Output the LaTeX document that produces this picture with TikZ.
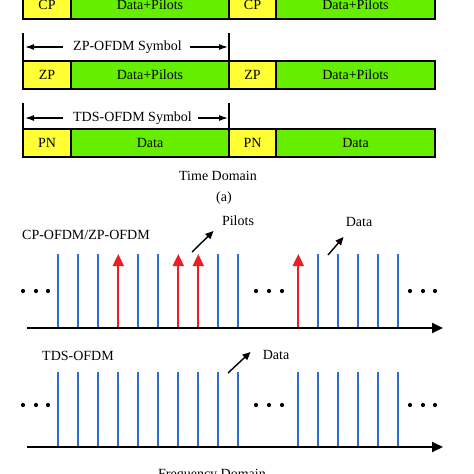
\documentclass[tikz,border=0pt]{standalone}
\usepackage{fontspec}
\setmainfont{Liberation Serif}
\usetikzlibrary{arrows.meta}
\definecolor{boxyellow}{RGB}{255,255,51}
\definecolor{boxgreen}{RGB}{102,238,0}
\definecolor{lineblue}{RGB}{45,110,210}
\definecolor{pilotred}{RGB}{235,30,40}
\begin{document}
\begin{tikzpicture}[x=1pt,y=-1pt,font=\fontsize{14}{16}\selectfont,
  seg/.style={draw=black,line width=1.3pt,minimum height=28pt,inner sep=0pt,anchor=north west,outer sep=0pt},
  ybox/.style={seg,fill=boxyellow},
  gbox/.style={seg,fill=boxgreen},
  bracket/.style={line width=1.2pt},
  symarrow/.style={line width=1.2pt,-{Latex[length=9pt,width=6pt]}},
  sub/.style={line width=1.8pt,draw=lineblue},
  pilot/.style={line width=1.8pt,draw=pilotred,-{Triangle[length=12pt,width=11pt]}},
  axis/.style={line width=1.8pt,-{Triangle[length=11pt,width=10pt]}},
  pointer/.style={line width=1.4pt,-{Triangle[length=8pt,width=7pt]}},
  dot/.style={circle,fill=black,inner sep=0pt,minimum size=4.2pt}]
\useasboundingbox (0,0) rectangle (474,474);
\clip (0,0) rectangle (474,474);

% ---- Time domain ----
% CP-OFDM row
\node[ybox,minimum width=48pt] (cp1) at (23,-9) {CP};
\node[gbox,minimum width=158pt] (cpd1) at (71,-9) {Data+Pilots};
\node[ybox,minimum width=47pt] (cp2) at (229,-9) {CP};
\node[gbox,minimum width=159pt] (cpd2) at (276,-9) {Data+Pilots};
% ZP-OFDM row
\node[ybox,minimum width=48pt] (zp1) at (23,61) {ZP};
\node[gbox,minimum width=158pt] (zpd1) at (71,61) {Data+Pilots};
\node[ybox,minimum width=47pt] (zp2) at (229,61) {ZP};
\node[gbox,minimum width=159pt] (zpd2) at (276,61) {Data+Pilots};
% TDS-OFDM row
\node[ybox,minimum width=48pt] (pn1) at (23,129) {PN};
\node[gbox,minimum width=158pt] (pnd1) at (71,129) {Data};
\node[ybox,minimum width=47pt] (pn2) at (229,129) {PN};
\node[gbox,minimum width=159pt] (pnd2) at (276,129) {Data};

% ZP-OFDM symbol bracket
\coordinate (zpL) at (23,33);
\coordinate (zpR) at (229,33);
\draw[bracket] (zp1.north west) -- (zpL);
\draw[bracket] (zp2.north west) -- (zpR);
\node[inner sep=0pt] (zpsym) at (127.5,47) {ZP-OFDM Symbol};
\coordinate (zpLa) at (25,47);
\coordinate (zpRa) at (228,47);
\draw[symarrow] ([xshift=-10pt]zpsym.west) -- (zpLa);
\draw[symarrow] ([xshift=8pt]zpsym.east) -- (zpRa);

% TDS-OFDM symbol bracket
\coordinate (tdL) at (23,103);
\coordinate (tdR) at (229,103);
\draw[bracket] (pn1.north west) -- (tdL);
\draw[bracket] (pn2.north west) -- (tdR);
\node[inner sep=0pt] (tdsym) at (132.5,118) {TDS-OFDM Symbol};
\coordinate (tdLa) at (25,118);
\coordinate (tdRa) at (228,118);
\draw[symarrow] ([xshift=-10pt]tdsym.west) -- (tdLa);
\draw[symarrow] ([xshift=6pt]tdsym.east) -- (tdRa);

\node (timedom) at (218,176) {Time Domain};
\node (a) at (224,198) {(a)};

% ---- Frequency domain: CP-OFDM/ZP-OFDM ----
\node (cpzp) at (86,235) {CP-OFDM/ZP-OFDM};
\coordinate (ax1s) at (27,328);
\coordinate (ax1e) at (443,328);
\foreach \k in {0,1,2,4,5,8,9} \draw[sub] (58.3+20*\k,328) -- (58.3+20*\k,254);
\foreach \k in {1,...,5} \draw[sub] (298.3+20*\k,328) -- (298.3+20*\k,254);
\foreach \xx in {118.3,178.3,198.3,298.3} \draw[pilot] (\xx,328) -- (\xx,254);
\draw[axis] (ax1s) -- (ax1e);
\foreach \xx/\n in {23/a,36/b,48/c,256/d,269/e,282/f,410/g,423/h,435/i}
  \node[dot] (d1\n) at (\xx,291) {};
\node (pilots) at (238,221) {Pilots};
\node (data1) at (359,222) {Data};
\coordinate (p1) at (192,252);
\coordinate (p2) at (328,255);
\draw[pointer] (p1) -- (213.5,231);
\draw[pointer] (p2) -- (343.5,237);

% ---- Frequency domain: TDS-OFDM ----
\node (tds) at (78,356) {TDS-OFDM};
\coordinate (ax2s) at (27,447);
\coordinate (ax2e) at (443,447);
\foreach \k in {0,...,9} \draw[sub] (58.3+20*\k,447) -- (58.3+20*\k,372);
\foreach \k in {0,...,5} \draw[sub] (298.3+20*\k,447) -- (298.3+20*\k,372);
\draw[axis] (ax2s) -- (ax2e);
\foreach \xx/\n in {23/a,36/b,48/c,256/d,269/e,282/f,410/g,423/h,435/i}
  \node[dot] (d2\n) at (\xx,405) {};
\node (data2) at (276,355) {Data};
\coordinate (p3) at (228,373);
\draw[pointer] (p3) -- (250.5,352);

\node (freqdom) at (212,475) {Frequency Domain};
\end{tikzpicture}
\end{document}
